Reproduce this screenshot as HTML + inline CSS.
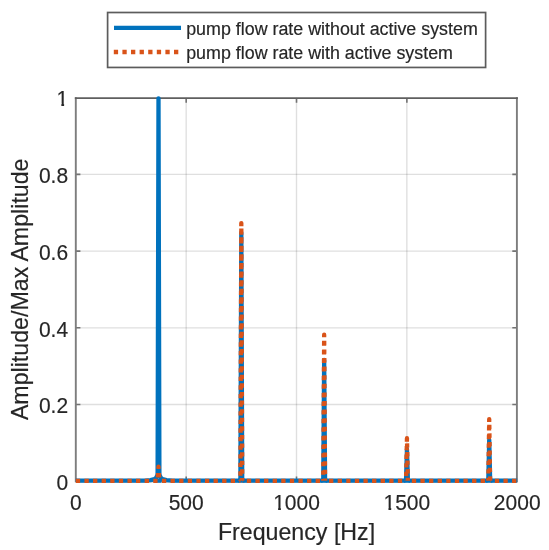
<!DOCTYPE html>
<html><head><meta charset="utf-8"><title>Amplitude spectrum</title>
<style>
html,body{margin:0;padding:0;background:#fff;}
body{width:549px;height:550px;overflow:hidden;}
svg{display:block;font-family:"Liberation Sans",Arial,sans-serif;}
</style></head><body>
<svg width="549" height="550" viewBox="0 0 549 550">
<defs><clipPath id="c1"><rect x="50" y="80" width="20" height="23.5"/><rect x="61.35" y="103" width="2.75" height="7"/></clipPath></defs>
<line x1="186.19" y1="97.7" x2="186.19" y2="481.2" stroke="#262626" stroke-opacity="0.15" stroke-width="1.35"/>
<line x1="296.52" y1="97.7" x2="296.52" y2="481.2" stroke="#262626" stroke-opacity="0.15" stroke-width="1.35"/>
<line x1="406.86" y1="97.7" x2="406.86" y2="481.2" stroke="#262626" stroke-opacity="0.15" stroke-width="1.35"/>
<line x1="75.85" y1="404.5" x2="517.2" y2="404.5" stroke="#262626" stroke-opacity="0.15" stroke-width="1.35"/>
<line x1="75.85" y1="327.8" x2="517.2" y2="327.8" stroke="#262626" stroke-opacity="0.15" stroke-width="1.35"/>
<line x1="75.85" y1="251.1" x2="517.2" y2="251.1" stroke="#262626" stroke-opacity="0.15" stroke-width="1.35"/>
<line x1="75.85" y1="174.4" x2="517.2" y2="174.4" stroke="#262626" stroke-opacity="0.15" stroke-width="1.35"/>
<path d="M186.19 481.2V476.6M186.19 98.15V102.75M296.52 481.2V476.6M296.52 98.15V102.75M406.86 481.2V476.6M406.86 98.15V102.75M75.8 404.5H80.4M516.9 404.5H512.3M75.8 327.8H80.4M516.9 327.8H512.3M75.8 251.1H80.4M516.9 251.1H512.3M75.8 174.4H80.4M516.9 174.4H512.3" stroke="#737373" stroke-width="1.6" fill="none"/>
<path d="M75.8 481.2V98.15M516.9 481.2V98.15M75.8 481.2H516.9" fill="none" stroke="#7d7d7d" stroke-width="1.9" stroke-linecap="square"/>
<path d="M75.8 98.15H516.9" fill="none" stroke="#5f5f5f" stroke-width="1.9" stroke-linecap="square"/>
<path d="M75.85 480.7 L144.5 480.7 L150.5 480.13 L154.5 479.17 L156.3 477.63 L157.6 474.57 L158.5 98.31 L159.4 474.57 L160.7 477.63 L162.5 479.17 L166.5 480.13 L172.5 480.7 L238.31 480.7 L240.41 479.55 L241.31 232.69 L242.21 479.55 L244.31 480.7 L321.16 480.7 L323.26 479.55 L324.16 360.01 L325.06 479.55 L327.16 480.7 L403.96 480.7 L406.06 479.55 L406.96 448.99 L407.86 479.55 L409.96 480.7 L486.22 480.7 L488.32 479.55 L489.22 439.78 L490.12 479.55 L492.22 480.7 L517.2 480.7" fill="none" stroke="#0072BD" stroke-width="4.3" stroke-linejoin="round"/>
<path d="M155.5 480.7H161.5M238.31 480.7H244.31M321.16 480.7H327.16M403.96 480.7H409.96M486.22 480.7H492.22" stroke="#0072BD" stroke-width="4.3"/>
<g fill="none" stroke="#D95319" stroke-width="4.3" stroke-linejoin="round" stroke-dasharray="4.3 4.3"><path d="M75.85 480.82H157.6" stroke-dashoffset="0"/><path d="M159.4 480.82H240.41" stroke-dashoffset="6.05"/><path d="M242.21 480.82H323.26" stroke-dashoffset="3.96"/><path d="M325.06 480.82H406.06" stroke-dashoffset="4.61"/><path d="M407.86 480.82H488.32" stroke-dashoffset="4.61"/><path d="M490.12 480.82H517.2" stroke-dashoffset="3.87"/><path d="M157.6 480.82 L158.5 466.63 L159.4 480.82" stroke-dashoffset="5.13"/><path d="M240.41 480.82 L241.31 223.1 L242.21 480.82" stroke-dashoffset="3.44"/><path d="M323.26 480.82 L324.16 334.7 L325.06 480.82" stroke-dashoffset="2.58"/><path d="M406.06 480.82 L406.96 438.25 L407.86 480.82" stroke-dashoffset="3.92"/><path d="M488.32 480.82 L489.22 419.07 L490.12 480.82" stroke-dashoffset="1.35"/></g>
<defs><clipPath id="c1000"><rect x="270.17" y="485" width="52.7" height="22.85"/><rect x="278.12" y="507.85" width="2.75" height="8"/><rect x="284.37" y="507.85" width="46.7" height="8"/></clipPath><clipPath id="c1500"><rect x="380.51" y="485" width="52.7" height="22.85"/><rect x="388.46" y="507.85" width="2.75" height="8"/><rect x="394.71" y="507.85" width="46.7" height="8"/></clipPath></defs>
<g font-size="21" fill="#262626" stroke="#262626" stroke-width="0.15"><text transform="translate(68.1 490) scale(1 1.06)" text-anchor="end">0</text><text transform="translate(68.1 413.3) scale(1 1.06)" text-anchor="end">0.2</text><text transform="translate(68.1 336.6) scale(1 1.06)" text-anchor="end">0.4</text><text transform="translate(68.1 259.9) scale(1 1.06)" text-anchor="end">0.6</text><text transform="translate(68.1 183.2) scale(1 1.06)" text-anchor="end">0.8</text><g clip-path="url(#c1)"><text transform="translate(68.1 105.9) scale(1 1.06)" text-anchor="end">1</text></g><text transform="translate(75.85 510.2) scale(1 1.06)" text-anchor="middle">0</text><text transform="translate(186.19 510.2) scale(1 1.06)" text-anchor="middle">500</text><g clip-path="url(#c1000)"><text transform="translate(296.52 510.2) scale(1 1.06)" text-anchor="middle">1000</text></g><g clip-path="url(#c1500)"><text transform="translate(406.86 510.2) scale(1 1.06)" text-anchor="middle">1500</text></g><text transform="translate(517.2 510.2) scale(1 1.06)" text-anchor="middle">2000</text></g>
<g font-size="23.2" fill="#262626" stroke="#262626" stroke-width="0.18">
<text x="296.53" y="540.3" text-anchor="middle">Frequency [Hz]</text>
<text transform="translate(27.6 289.3) rotate(-90)" text-anchor="middle">Amplitude/Max Amplitude</text>
</g>
<rect x="107.6" y="12.5" width="378" height="54.95" fill="#fff" stroke="#262626" stroke-opacity="0.75" stroke-width="1.7"/>
<line x1="114" y1="27.8" x2="181" y2="27.8" stroke="#0072BD" stroke-width="4.3"/>
<line x1="113.8" y1="52" x2="178.6" y2="52" stroke="#D95319" stroke-width="4.3" stroke-dasharray="4.3 4.3"/>
<g font-size="17.85" fill="#262626" stroke="#262626" stroke-width="0.18"><text x="186.2" y="34.8">pump flow rate without active system</text><text x="186.2" y="59.1">pump flow rate with active system</text></g>
</svg>
</body></html>
